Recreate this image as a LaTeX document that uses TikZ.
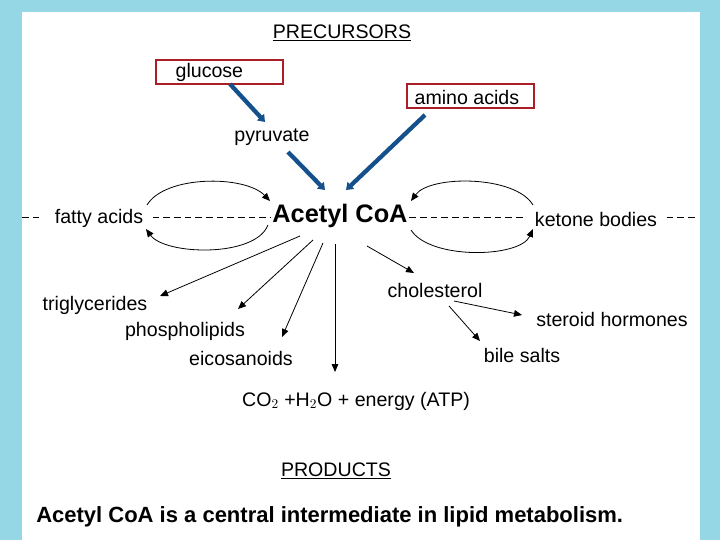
\documentclass[tikz,border=0pt]{standalone}
\usepackage{fontspec}
\setmainfont{Liberation Sans}
\usetikzlibrary{arrows.meta}
\definecolor{bgblue}{RGB}{150,215,230}
\definecolor{boxred}{RGB}{170,30,40}
\definecolor{arrblue}{RGB}{20,80,140}
\begin{document}
\begin{tikzpicture}[x=0.75pt,y=-0.75pt,
  lbl/.style={font=\fontsize{14.7}{17}\selectfont,inner sep=1pt},
  redbox/.style={draw=boxred,line width=1.8pt,minimum width=127*0.75pt,minimum height=24*0.75pt,inner sep=0pt},
  thick arrow/.style={draw=arrblue,line width=3.2pt,-{Triangle[length=5pt,width=7pt]}},
  thin arrow/.style={draw,line width=0.6pt,-{Triangle[length=6pt,width=5pt]}},
  dashline/.style={draw,line width=0.6pt,dash pattern=on 5pt off 3pt}]
\useasboundingbox (0,0) rectangle (720,540);
\fill[bgblue] (0,0) rectangle (720,540);
\fill[white] (22,12) rectangle (700,540);
\node[lbl] (prec) at (342,33) {\underline{PRECURSORS}};
\node[redbox] (glu) at (219.5,72) {};
\node[lbl,anchor=west] (glut) at (174,72) {glucose};
\node[redbox] (amino) at (470.5,96) {};
\node[lbl,anchor=west] (aminot) at (413,97) {amino acids};
\node[lbl] (pyr) at (272,137) {pyruvate};
\node[font=\bfseries\fontsize{19}{22}\selectfont,inner sep=1pt] (acoa) at (340,216) {Acetyl CoA};
\node[lbl] (fa) at (99,218) {fatty acids};
\node[lbl] (kb) at (596,219) {ketone bodies};
\node[lbl] (tg) at (95,305) {triglycerides};
\node[lbl] (pl) at (185,331) {phospholipids};
\node[lbl] (eic) at (241,358) {eicosanoids};
\node[lbl] (chol) at (435,290) {cholesterol};
\node[lbl] (ster) at (612,319) {steroid hormones};
\node[lbl] (bile) at (522,355) {bile salts};
\node[lbl] (co2) at (356,401) {CO$_2$ +H$_2$O + energy (ATP)};
\node[lbl] (prod) at (336,471) {\underline{PRODUCTS}};
\node[font=\bfseries\fontsize{16.5}{18}\selectfont,anchor=west,inner sep=0pt] (cap) at (36,517) {Acetyl CoA is a central intermediate in lipid metabolism.};
% thick arrows
\coordinate (g1) at (230,84); \coordinate (p0) at (265,122);
\draw[thick arrow] (g1) -- (p0);
\coordinate (p1) at (288,152); \coordinate (a1) at (325,190);
\draw[thick arrow] (p1) -- (a1);
\coordinate (m1) at (425,115); \coordinate (a2) at (346,190);
\draw[thick arrow] (m1) -- (a2);
% dashed
\coordinate (d1) at (22,217); \coordinate (d2) at (42,217);
\draw[dashline] (d1) -- (d2);
\draw[dashline] ([xshift=6pt]fa.east |- 0,217) -- (acoa.west |- 0,217);
\draw[dashline] (acoa.east |- 0,217) -- ([xshift=-6pt]kb.west |- 0,217);
\draw[dashline] ([xshift=6pt]kb.east |- 0,217) -- (698,217);
% loops
\coordinate (l1) at (147,205); \coordinate (l2) at (270,201);
\draw[thin arrow] (l1) .. controls (165,175) and (245,175) .. (l2);
\coordinate (l3) at (268,225); \coordinate (l4) at (146,229);
\draw[thin arrow] (l3) .. controls (255,258) and (165,255) .. (l4);
\coordinate (r1) at (533,205); \coordinate (r2) at (411,201);
\draw[thin arrow] (r1) .. controls (515,175) and (430,175) .. (r2);
\coordinate (r3) at (411,230); \coordinate (r4) at (533,229);
\draw[thin arrow] (r3) .. controls (430,260) and (520,258) .. (r4);
% products arrows
\coordinate (s1) at (300,236); \coordinate (e1) at (160,296);
\draw[thin arrow] (s1) -- (e1);
\coordinate (s2) at (313,240); \coordinate (e2) at (238,309);
\draw[thin arrow] (s2) -- (e2);
\coordinate (s3) at (323,243); \coordinate (e3) at (282,337);
\draw[thin arrow] (s3) -- (e3);
\coordinate (s4) at (335,244); \coordinate (e4) at (335,372);
\draw[thin arrow] (s4) -- (e4);
\coordinate (s5) at (367,246); \coordinate (e5) at (414,273);
\draw[thin arrow] (s5) -- (e5);
\coordinate (s6) at (454,301); \coordinate (e6) at (522,315);
\draw[thin arrow] (s6) -- (e6);
\coordinate (s7) at (449,306); \coordinate (e7) at (480,341);
\draw[thin arrow] (s7) -- (e7);
\end{tikzpicture}
\end{document}
